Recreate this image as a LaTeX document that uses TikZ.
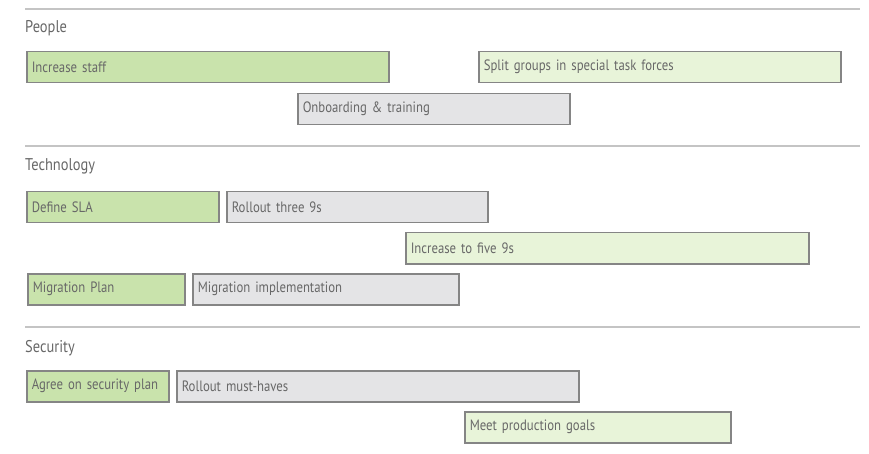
\documentclass[tikz,border=0pt]{standalone}
\usepackage{fontspec}
\setmainfont{PT Sans}[FakeStretch=0.85]
\usetikzlibrary{positioning}
\definecolor{dg}{HTML}{C9E3AC}
\definecolor{lg}{HTML}{E8F4D9}
\definecolor{gb}{HTML}{E4E4E6}
\definecolor{bd}{HTML}{858585}
\definecolor{tx}{HTML}{686868}
\definecolor{sep}{HTML}{C4C4C4}
\tikzset{
  bar/.style={draw=bd, line width=1.5pt, anchor=north west, minimum height=31pt,
    inner xsep=5pt, inner ysep=0pt, font=\fontsize{15}{17}\selectfont, text=tx, align=left},
  head/.style={anchor=west, inner sep=0pt, font=\fontsize{17}{19}\selectfont, text=tx},
  seprule/.style={draw=sep, line width=2pt}
}
\newcommand{\mybar}[7]{% name, x1, y1, x2, y2, fill, text
  \node[bar, fill=#6, minimum width=#4pt-#2pt, text width=#4pt-#2pt-10pt] (#1) at (#2pt,-#3pt) {#7};}
\begin{document}
\begin{tikzpicture}[x=1pt,y=1pt]
\useasboundingbox (0,0) rectangle (869,-454);
\coordinate (s1a) at (25,-9); \coordinate (s1b) at (860,-9);
\coordinate (s2a) at (25,-146); \coordinate (s2b) at (860,-146);
\coordinate (s3a) at (25,-327); \coordinate (s3b) at (860,-327);
\draw[seprule] (s1a) -- (s1b);
\draw[seprule] (s2a) -- (s2b);
\draw[seprule] (s3a) -- (s3b);
\node[head] (people) at (25,-28) {People};
\node[head] (tech) at (25,-166) {Technology};
\node[head] (sec) at (25,-348) {Security};
\mybar{inc}{26}{51}{388}{82}{dg}{Increase staff}
\mybar{split}{478}{51}{840}{82}{lg}{Split groups in special task forces}
\mybar{onb}{297}{93}{569}{124}{gb}{Onboarding \& training}
\mybar{sla}{26}{191}{218}{222}{dg}{Define SLA}
\mybar{three}{226}{191}{487}{222}{gb}{Rollout three 9s}
\mybar{five}{405}{232}{808}{263}{lg}{Increase to five 9s}
\mybar{mplan}{27}{273}{184}{304}{dg}{Migration Plan}
\mybar{mimpl}{192}{273}{458}{304}{gb}{Migration implementation}
\mybar{agree}{26}{370}{168}{401}{dg}{Agree on security plan}
\mybar{must}{176}{370}{578}{401}{gb}{Rollout must-haves}
\mybar{meet}{464}{411}{730}{442}{lg}{Meet production goals}
\end{tikzpicture}
\end{document}
